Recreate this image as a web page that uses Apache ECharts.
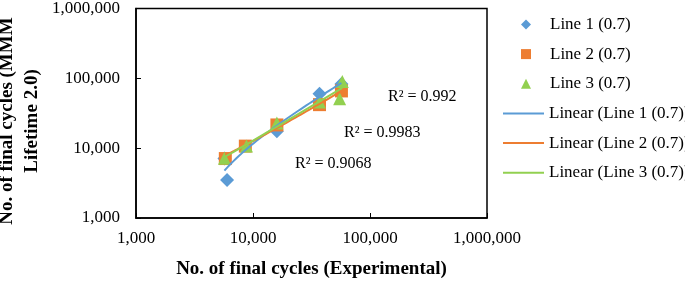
<!DOCTYPE html>
<html>
<head>
<meta charset="utf-8">
<script src="https://cdn.jsdelivr.net/npm/echarts@6/dist/echarts.min.js"></script>
<style>
  html, body { margin: 0; padding: 0; background: #fff; }
  #chart { width: 685px; height: 284px; }
</style>
</head>
<body>
<div id="chart"></div>
<script>
  // values [experimental, MMM Lifetime 2.0]
  var line1 = [[5700, 7100], [6000, 3500], [16000, 17500], [37000, 60000], [57000, 83000]]
  var line2 = [[5800, 7100], [8600, 10700], [16000, 21500], [37000, 42000], [57000, 66000]]
  var line3 = [[5700, 7200], [8800, 10700], [16000, 23000], [37000, 46000], [55000, 51000], [58000, 90000]]
  var names = ['Line 1 (0.7)', 'Line 2 (0.7)', 'Line 3 (0.7)']
  var trendNames = names.map(n => 'Linear (' + n + ')')
  var r2Labels = ['R² = 0.992', 'R² = 0.9983', 'R² = 0.9068']
  var colors = ['#5B9BD5', '#ED7D31', '#92D050']
  var font = '"Liberation Serif", "Times New Roman", serif'

  // least squares line y = a*x + b, sampled along the data x range
  function trend(pts){
    let n = pts.length, sx = 0, sy = 0
    for(let i in pts){ sx += pts[i][0]; sy += pts[i][1] }
    let mx = sx/n, my = sy/n, sxy = 0, sxx = 0
    for(let i in pts){
      sxy += (pts[i][0]-mx)*(pts[i][1]-my)
      sxx += (pts[i][0]-mx)*(pts[i][0]-mx)
    }
    let a = sxy/sxx, b = my - a*mx
    let xs = pts.map(p => p[0])
    let lo = Math.log10(Math.min.apply(null, xs)), hi = Math.log10(Math.max.apply(null, xs))
    let out = []
    for(let k = 0; k <= 40; k++){
      let x = Math.pow(10, lo + (hi-lo)*k/40)
      out.push([x, a*x + b])
    }
    return out
  }

  let fmt = v => Math.round(v).toLocaleString('en-US')
  let symbols = ['diamond', 'rect', 'triangle']
  let sizes = [14, 13, 13]
  let groups = [line1, line2, line3]
  let series = []
  groups.forEach((g, i) => {
    series.push({
      name: names[i], type: 'scatter', data: g,
      symbol: symbols[i], symbolSize: sizes[i],
      itemStyle: { color: colors[i], opacity: 1 }, z: 2 + i
    })
  })
  groups.forEach((g, i) => {
    series.push({
      name: trendNames[i], type: 'line', data: trend(g),
      showSymbol: false, symbol: 'none', smooth: false,
      lineStyle: { color: colors[i], width: 2 }, itemStyle: { color: colors[i] }, z: 6
    })
  })

  let legendText = { fontFamily: font, fontSize: 17, lineHeight: 17, color: '#000' }
  let myChart = echarts.init(document.getElementById('chart'))
  let option = {
    animation: false,
    backgroundColor: '#ffffff',
    grid: { left: 136, top: 6, width: 351, height: 215, show: true, borderColor: '#000', borderWidth: 1.5, backgroundColor: 'transparent' },
    xAxis: {
      type: 'log', logBase: 10, min: 1000, max: 1000000,
      name: 'No. of final cycles (Experimental)', nameLocation: 'middle', nameGap: 42,
      nameTextStyle: { fontFamily: font, fontSize: 19, fontWeight: 'bold', color: '#000' },
      axisLine: { lineStyle: { color: '#000', width: 1.5 } },
      axisTick: { inside: true, length: 5, lineStyle: { color: '#000' } },
      minorTick: { show: false },
      splitLine: { show: false },
      axisLabel: { margin: 12, fontFamily: font, fontSize: 17, color: '#000', formatter: fmt, showMaxLabel: true, showMinLabel: true }
    },
    yAxis: {
      type: 'log', logBase: 10, min: 1000, max: 1000000,
      axisLine: { lineStyle: { color: '#000', width: 1.5 } },
      axisTick: { inside: true, length: 5, lineStyle: { color: '#000' } },
      splitLine: { show: false },
      axisLabel: { margin: 16, fontFamily: font, fontSize: 17, color: '#000', formatter: fmt, showMaxLabel: true, showMinLabel: true }
    },
    legend: [
      {
        orient: 'vertical', left: 521, top: 16, padding: 0,
        itemWidth: 10, itemHeight: 10, itemGap: 12.6,
        data: names.map((n, i) => ({ name: n, icon: symbols[i] })),
        textStyle: Object.assign({ padding: [0, 0, 0, 14] }, legendText)
      },
      {
        orient: 'vertical', left: 503, top: 105, padding: 0,
        itemWidth: 41, itemHeight: 2, itemGap: 12.6,
        data: trendNames.map(n => ({ name: n, icon: 'rect' })),
        textStyle: legendText
      }
    ],
    graphic: [
      {
        type: 'text', x: 20, y: 121, rotation: Math.PI/2,
        style: {
          text: 'No. of final cycles (MMM\nLifetime 2.0)', fontFamily: font, fontSize: 19, fontWeight: 'bold',
          lineHeight: 25, fill: '#000', align: 'center', verticalAlign: 'middle'
        }
      },
      { type: 'text', x: 388, y: 97, style: { text: r2Labels[0], fontFamily: font, fontSize: 16, fill: '#000', verticalAlign: 'middle' } },
      { type: 'text', x: 344, y: 133, style: { text: r2Labels[1], fontFamily: font, fontSize: 16, fill: '#000', verticalAlign: 'middle' } },
      { type: 'text', x: 295, y: 164, style: { text: r2Labels[2], fontFamily: font, fontSize: 16, fill: '#000', verticalAlign: 'middle' } }
    ],
    series: series
  }
  myChart.setOption(option)
</script>
</body>
</html>
